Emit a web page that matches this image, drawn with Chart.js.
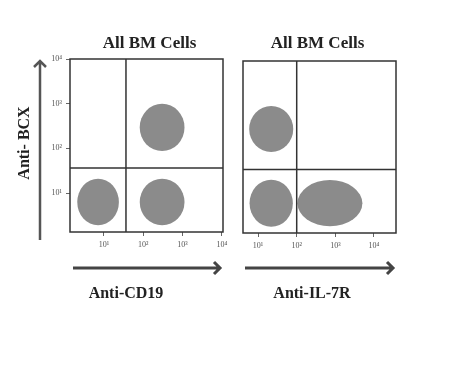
<!DOCTYPE html>
<html>
<head>
<meta charset="utf-8">
<script src="https://cdn.jsdelivr.net/npm/chart.js@4.4.0/dist/chart.umd.min.js"></script>
<style>
  body { margin: 0; background: #fff; }
  .panel { position: absolute; top: 0; height: 320px; }
  #p1 { left: 0; width: 235px; }
  #p2 { left: 235px; width: 239px; }
</style>
</head>
<body>
<div class="panel" id="p1"><canvas id="cd19"></canvas></div>
<div class="panel" id="p2"><canvas id="il7r"></canvas></div>
<script>
// values are log10 decades
const tickDecades = [1, 2, 3, 4];
const tickLabels = ['10\u00b9', '10\u00b2', '10\u00b3', '10\u2074'];
const panelTitles = ['All BM Cells', 'All BM Cells'];
const xLabels = ['Anti-CD19', 'Anti-IL-7R'];
const yLabel = 'Anti- BCX';

// populations: center x, center y, spread x, spread y
const cd19Pops = [
  { x: 2.48, y: 2.47, rx: 0.57, ry: 0.53 },
  { x: 0.85, y: 0.80, rx: 0.53, ry: 0.52 },
  { x: 2.48, y: 0.80, rx: 0.57, ry: 0.52 }
];
const il7rPops = [
  { x: 1.34, y: 2.47, rx: 0.57, ry: 0.52 },
  { x: 1.34, y: 0.80, rx: 0.56, ry: 0.53 },
  { x: 2.86, y: 0.80, rx: 0.84, ry: 0.52 }
];
const cd19Gate = { x: 1.56, y: 1.56 };
const il7rGate = { x: 2.0, y: 1.56 };

const serif = '"Liberation Serif", "DejaVu Serif", serif';

// draws box, quadrant gates, populations, title, arrows and axis labels
const flowPlot = {
  id: 'flowPlot',
  beforeDatasetsDraw(chart, args, opts) {
    const { ctx, chartArea: a, scales } = chart;
    const sx = scales.x, sy = scales.y;
    ctx.save();
    ctx.fillStyle = '#8b8b8b';
    opts.pops.forEach(p => {
      const cx = sx.getPixelForValue(p.x), cy = sy.getPixelForValue(p.y);
      const rx = Math.abs(sx.getPixelForValue(p.x + p.rx) - cx);
      const ry = Math.abs(sy.getPixelForValue(p.y + p.ry) - cy);
      ctx.beginPath();
      ctx.ellipse(cx, cy, rx, ry, 0, 0, Math.PI * 2);
      ctx.fill();
    });
    ctx.strokeStyle = '#333';
    ctx.lineWidth = 1.5;
    ctx.strokeRect(a.left, a.top, a.right - a.left, a.bottom - a.top);
    const gx = sx.getPixelForValue(opts.gate.x), gy = sy.getPixelForValue(opts.gate.y);
    ctx.beginPath();
    ctx.moveTo(gx, a.top); ctx.lineTo(gx, a.bottom);
    ctx.moveTo(a.left, gy); ctx.lineTo(a.right, gy);
    ctx.stroke();

    // title
    ctx.fillStyle = '#222';
    ctx.font = 'bold 17px ' + serif;
    ctx.textAlign = 'center';
    ctx.textBaseline = 'middle';
    ctx.fillText(opts.title, (a.left + a.right) / 2 + opts.titleShift, 44);

    // x arrow + label
    ctx.strokeStyle = '#444';
    ctx.lineWidth = 3;
    const ay = 268;
    ctx.beginPath();
    ctx.moveTo(a.left + opts.arrowX[0], ay); ctx.lineTo(a.left + opts.arrowX[1], ay);
    ctx.moveTo(a.left + opts.arrowX[1] - 6, ay - 6);
    ctx.lineTo(a.left + opts.arrowX[1], ay);
    ctx.lineTo(a.left + opts.arrowX[1] - 6, ay + 6);
    ctx.stroke();
    ctx.font = 'bold 16px ' + serif;
    ctx.fillText(opts.xLabel, opts.xLabelX, 294);

    if (opts.yArrow) {
      ctx.lineWidth = 2.5;
      ctx.strokeStyle = '#555';
      ctx.beginPath();
      ctx.moveTo(40, 240); ctx.lineTo(40, 61);
      ctx.moveTo(34, 67); ctx.lineTo(40, 61); ctx.lineTo(46, 67);
      ctx.stroke();
      ctx.save();
      ctx.translate(25, 143);
      ctx.rotate(-Math.PI / 2);
      ctx.fillStyle = '#222';
      ctx.font = 'bold 16px ' + serif;
      ctx.fillText(yLabel, 0, 0);
      ctx.restore();
    }
    ctx.restore();
  }
};

function decadeAxis(min, max, show, size) {
  return {
    type: 'linear',
    display: show,
    min: min,
    max: max,
    afterBuildTicks: s => { s.ticks = tickDecades.map(v => ({ value: v })); },
    afterFit: s => {
      const sz = show ? size : 0;
      if (s.isHorizontal()) s.height = sz; else s.width = sz;
    },
    border: { display: false },
    grid: { drawOnChartArea: false, drawTicks: true, tickLength: 4, color: '#666', lineWidth: 1 },
    ticks: {
      padding: 4,
      color: '#555',
      font: { family: serif, size: 8 },
      callback: v => tickLabels[tickDecades.indexOf(v)]
    }
  };
}

function makePanel(id, pops, gate, xr, showY, padding, title, xLabel, xLabelX, arrowX, titleShift) {
  new Chart(document.getElementById(id), {
    type: 'scatter',
    data: { datasets: [{ data: [] }] },
    options: {
      responsive: true,
      maintainAspectRatio: false,
      animation: false,
      layout: { padding: padding },
      scales: {
        x: decadeAxis(xr[0], xr[1], true, 20),
        y: decadeAxis(0.13, 4.0, showY, 30)
      },
      plugins: {
        legend: { display: false },
        tooltip: { enabled: false },
        flowPlot: { pops, gate, title, xLabel, xLabelX, arrowX, titleShift, yArrow: showY }
      }
    },
    plugins: [flowPlot]
  });
}

makePanel('cd19', cd19Pops, cd19Gate, [0.135, 4.03], true,
  { left: 40, right: 12, top: 59, bottom: 68 },
  panelTitles[0], xLabels[0], 126, [3, 150], 3);
makePanel('il7r', il7rPops, il7rGate, [0.61, 4.57], false,
  { left: 8, right: 78, top: 61, bottom: 67 },
  panelTitles[1], xLabels[1], 312 - 235, [2, 150], -2);
</script>
</body>
</html>
